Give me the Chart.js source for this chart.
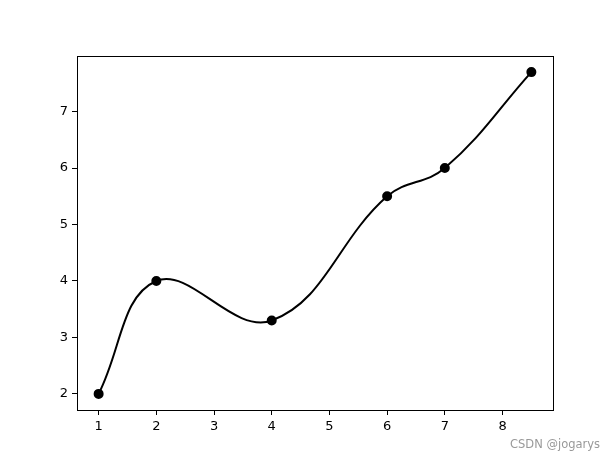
<!DOCTYPE html>
<html>
<head>
<meta charset="utf-8">
<script src="https://cdn.jsdelivr.net/npm/chart.js@4/dist/chart.umd.min.js"></script>
<style>
  html, body { margin: 0; padding: 0; background: #fff; }
  #wrap { position: relative; width: 614px; height: 461px; }
  #mark { position: absolute; left: 510px; top: 437px; font: 11.5px "DejaVu Sans", sans-serif; color: #999; }
</style>
</head>
<body>
<div id="wrap">
  <canvas id="myChart" width="614" height="461"></canvas>
  <div id="mark">CSDN @jogarys</div>
</div>
<script>
const xValues = [1, 2, 4, 6, 7, 8.5];
const yValues = [2, 4, 3.3, 5.5, 6, 7.7];

// 四周的边框（matplotlib 风格）
const boxPlugin = {
  id: 'box',
  afterDraw(chart) {
    const a = chart.chartArea, ctx = chart.ctx;
    ctx.save();
    ctx.strokeStyle = '#000';
    ctx.lineWidth = 1;
    ctx.strokeRect(Math.round(a.left) + 0.5, Math.round(a.top) + 0.5,
      Math.round(a.right - a.left), Math.round(a.bottom - a.top));
    ctx.restore();
  }
};

const tickFont = { family: 'DejaVu Sans', size: 13 };

new Chart(document.getElementById('myChart'), {
  type: 'line',
  data: {
    datasets: [{
      data: xValues.map((x, i) => ({ x: x, y: yValues[i] })),
      borderColor: '#000',
      backgroundColor: '#000',
      borderWidth: 2,
      pointRadius: 4,
      pointHoverRadius: 4,
      tension: 0.4,
      fill: false
    }]
  },
  options: {
    responsive: false,
    animation: false,
    layout: { padding: { left: 47, right: 61, top: 56, bottom: 20 } },
    plugins: { legend: { display: false }, tooltip: { enabled: false } },
    scales: {
      x: {
        type: 'linear',
        min: 0.625, max: 8.875,
        afterFit(s) { s.height = 31; },
        ticks: { stepSize: 1, includeBounds: false, color: '#000', font: tickFont, padding: 4, maxRotation: 0 },
        grid: { drawOnChartArea: false, drawTicks: true, tickLength: 5, color: '#000' },
        border: { display: true, color: '#000' }
      },
      y: {
        type: 'linear',
        min: 1.715, max: 7.985,
        afterFit(s) { s.width = 30; },
        ticks: { stepSize: 1, includeBounds: false, color: '#000', font: tickFont, padding: 4 },
        grid: { drawOnChartArea: false, drawTicks: true, tickLength: 5, color: '#000' },
        border: { display: true, color: '#000' }
      }
    }
  },
  plugins: [boxPlugin]
});
</script>
</body>
</html>
